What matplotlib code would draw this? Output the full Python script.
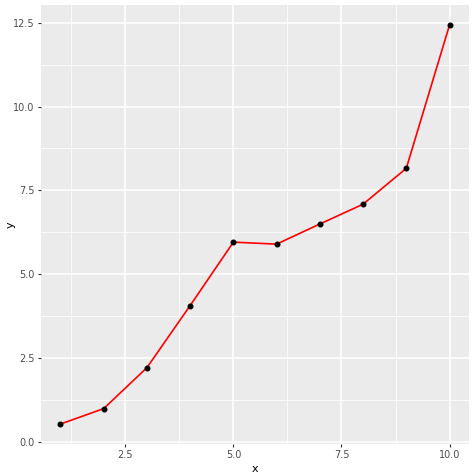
import numpy as np
import matplotlib
matplotlib.use("Agg")
import matplotlib.pyplot as plt
from matplotlib.ticker import MultipleLocator

# valeurs
x = [1, 2, 3, 4, 5, 6, 7, 8, 9, 10]
y = [0.54, 1.00, 2.22, 4.07, 5.96, 5.90, 6.50, 7.09, 8.16, 12.43]
xticks = [2.5, 5.0, 7.5, 10.0]
yticks = [0.0, 2.5, 5.0, 7.5, 10.0, 12.5]

fig = plt.figure(figsize=(4.74, 4.74), dpi=100)
ax = fig.add_axes([41 / 474, 30 / 474, 428 / 474, 439 / 474])
ax.set_facecolor("#EBEBEB")

# limites avec expansion de 5% facon ggplot
dx = (max(x) - min(x)) * 0.05
dy = (max(y) - min(y)) * 0.05
ax.set_xlim(min(x) - dx, max(x) + dx)
ax.set_ylim(min(y) - dy, max(y) + dy)

ax.set_xticks(xticks)
ax.set_yticks(yticks)
ax.set_xticklabels([f"{t:.1f}" for t in xticks])
ax.set_yticklabels([f"{t:.1f}" for t in yticks])
ax.xaxis.set_minor_locator(MultipleLocator(1.25))
ax.yaxis.set_minor_locator(MultipleLocator(1.25))

ax.grid(which="major", color="white", linewidth=1.1)
ax.grid(which="minor", color="white", linewidth=0.55)
ax.set_axisbelow(True)
for s in ax.spines.values():
    s.set_visible(False)

ax.tick_params(which="major", length=2.5, width=0.8, color="#333333",
               labelsize=7, labelcolor="#4D4D4D", pad=2)
ax.tick_params(which="minor", length=0)

ax.plot(x, y, color="red", linewidth=1.2, zorder=3)
ax.plot(x, y, "o", color="black", markersize=3.3, zorder=4)

ax.set_xlabel("x", fontsize=8, color="black", labelpad=3)
ax.set_ylabel("y", fontsize=8, color="black")
ax.yaxis.set_label_coords(-0.06, 0.5)

fig.savefig("out.png", dpi=100)
